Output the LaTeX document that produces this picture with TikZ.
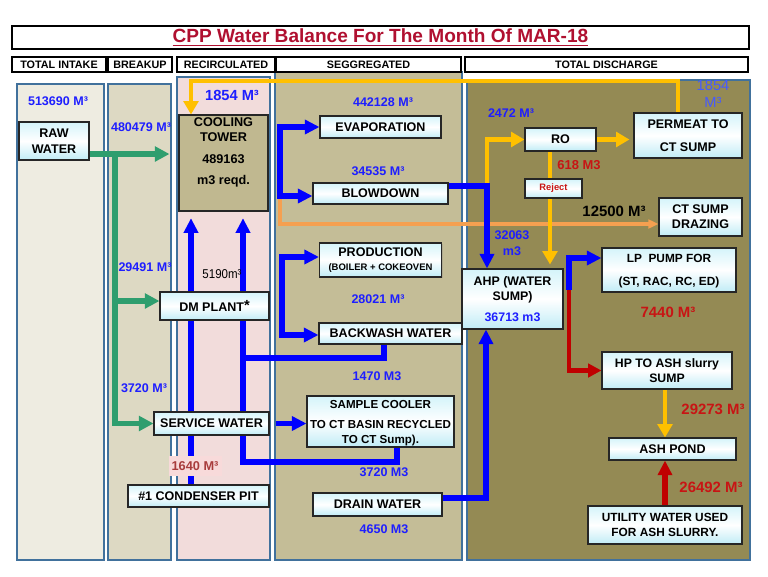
\documentclass[tikz,border=0pt]{standalone}
\usepackage{fontspec}
\setmainfont{Liberation Sans}
\usetikzlibrary{arrows.meta,shadows}
\definecolor{colA}{HTML}{EEECE1}
\definecolor{colB}{HTML}{DDD9C3}
\definecolor{colC}{HTML}{F2DCDB}
\definecolor{colD}{HTML}{C4BD97}
\definecolor{colE}{HTML}{948A54}
\definecolor{colEdge}{HTML}{41719C}
\definecolor{ctfill}{HTML}{C0B890}
\definecolor{vblue}{RGB}{30,30,255}
\definecolor{lblue}{RGB}{70,90,255}
\definecolor{fblue}{RGB}{0,0,255}
\definecolor{fgreen}{RGB}{46,158,110}
\definecolor{fyellow}{RGB}{255,192,0}
\definecolor{forange}{RGB}{245,160,80}
\definecolor{fred}{RGB}{192,0,0}
\definecolor{tred}{RGB}{200,20,20}
\definecolor{titlered}{RGB}{176,16,48}
\definecolor{brownred}{RGB}{168,60,60}
\definecolor{lblbg}{RGB}{248,218,218}
\definecolor{boxtop}{RGB}{212,244,250}
\definecolor{boxbot}{RGB}{192,236,246}
\pgfdeclarelayer{cols}
\pgfdeclarelayer{lines}
\pgfsetlayers{cols,lines,main}
\tikzset{
  sz/.style 2 args={minimum width=#1*0.75pt, minimum height=#2*0.75pt},
  box/.style={draw=black!85, line width=0.8pt, top color=boxtop, bottom color=boxbot, middle color=white,
    drop shadow={shadow xshift=1pt, shadow yshift=-1pt, opacity=0.3},
    inner sep=0pt, align=center, font=\bfseries\fontsize{9.4}{11.3}\selectfont},
  hdr/.style={draw=black, line width=0.9pt, fill=white, inner sep=0pt, font=\bfseries\fontsize{8.1}{10}\selectfont},
  colpanel/.style={draw=colEdge, line width=1.3pt},
  val/.style={font=\bfseries\fontsize{9.4}{12}\selectfont, text=vblue, inner sep=0pt, align=center},
  bigval/.style={font=\bfseries\fontsize{11.2}{13}\selectfont, inner sep=0pt, align=center},
  bline/.style={draw=fblue, line width=4pt},
  barrow/.style={bline, -{Triangle[length=11pt,width=10.5pt]}},
  bboth/.style={bline, {Triangle[length=11pt,width=10.5pt]}-{Triangle[length=11pt,width=10.5pt]}},
  gline/.style={draw=fgreen, line width=4pt},
  garrow/.style={gline, -{Triangle[length=11pt,width=11pt]}},
  yarrow/.style={draw=fyellow, line width=3.2pt, -{Triangle[length=10pt,width=11pt]}},
  oarrow/.style={draw=forange, line width=2.3pt, -{Triangle[length=7.5pt,width=6.5pt]}},
  rarrow/.style={draw=fred, line width=3.6pt, -{Triangle[length=10pt,width=10pt]}},
}
\begin{document}
\begin{tikzpicture}[x=0.75pt,y=-0.75pt]
\useasboundingbox (0,0) rectangle (768,576);
\begin{pgfonlayer}{cols}
\fill[white] (0,0) rectangle (768,576);
\draw[colpanel, fill=colA] (17,84) rectangle (104,560);
\draw[colpanel, fill=colB] (108,84) rectangle (171,560);
\draw[colpanel, fill=colC] (177,77) rectangle (270,560);
\draw[colpanel, fill=colD] (275,72) rectangle (462,560);
\draw[colpanel, fill=colE] (467,80) rectangle (750,560);
\end{pgfonlayer}

% title and headers
\node[hdr, sz={737}{23}, font=\bfseries\fontsize{14.3}{16}\selectfont, text=titlered] (title) at (380.5,37.5) {\underline{CPP Water Balance For The Month Of MAR-18}};
\node[hdr, sz={94}{15}] (h1) at (59,64.5) {TOTAL INTAKE};
\node[hdr, sz={64}{15}] (h2) at (140,64.5) {BREAKUP};
\node[hdr, sz={98}{15}] (h3) at (226,64.5) {RECIRCULATED};
\node[hdr, sz={185}{15}] (h4) at (368.5,64.5) {SEGGREGATED};
\node[hdr, sz={283}{15}] (h5) at (606.5,64.5) {TOTAL DISCHARGE};

% boxes
\node[box, sz={70}{38}, font=\bfseries\fontsize{9.4}{12}\selectfont] (raw) at (54,141) {RAW\\WATER};
\node[draw=black!85, line width=0.8pt, fill=ctfill, sz={89}{96}] (ct) at (223.5,163) {};
\node[anchor=north, inner sep=0pt, align=center, font=\bfseries\fontsize{9.5}{11.25}\selectfont] (ctlbl) at (223.5,117) {COOLING\\TOWER\\[5.2pt]489163\\[5.2pt]m3 reqd.};
\node[box, sz={109}{28}] (dm) at (214.5,306) {DM PLANT\raisebox{1pt}{\fontsize{11}{11}\selectfont*}};
\node[box, sz={115}{23}] (svc) at (211.5,423.5) {SERVICE WATER};
\node[box, sz={141}{22}] (cond) at (198.5,496) {\#1 CONDENSER PIT};
\node[box, sz={121}{22}] (evap) at (380.5,127) {EVAPORATION};
\node[box, sz={135}{21}] (bd) at (380.5,193.5) {BLOWDOWN};
\node[box, sz={122}{34}, font=\bfseries\fontsize{9.4}{10.5}\selectfont] (prod) at (380.5,260) {PRODUCTION\\{\fontsize{7.1}{8}\selectfont (BOILER + COKEOVEN}};
\node[box, sz={143}{21}] (bw) at (390.5,333.5) {BACKWASH WATER};
\node[box, sz={147}{51}, font=\bfseries\fontsize{8.7}{11.25}\selectfont] (sc) at (380.5,421.5) {\rule{0pt}{9pt}SAMPLE COOLER\\[3.75pt]TO CT BASIN RECYCLED\\TO CT Sump).};
\node[box, sz={129}{23}] (dr) at (377.5,504.5) {DRAIN WATER};
\node[box, sz={71}{23}] (ro) at (560.5,139.5) {RO};
\node[box, sz={108}{45}] (perm) at (688,135.5) {PERMEAT TO\\[6pt]CT SUMP};
\node[box, sz={57}{19}, font=\bfseries\fontsize{7}{8}\selectfont, text=tred] (rej) at (553.5,188.5) {Reject};
\node[box, sz={83}{38}] (ctsd) at (700.5,217) {CT SUMP\\DRAZING};
\node[box, sz={101}{60}, font=\bfseries\fontsize{9.3}{11.25}\selectfont] (ahp) at (512.5,299) {AHP (WATER\\SUMP)\\[4.5pt]\textcolor{vblue}{36713 m3}};
\node[box, sz={134}{44}, font=\bfseries\fontsize{8.9}{11.25}\selectfont] (lp) at (669,270) {\rule{0pt}{8pt}LP\ \ PUMP FOR\\[6pt](ST, RAC, RC, ED)};
\node[box, sz={130}{37}, font=\bfseries\fontsize{9.2}{11.25}\selectfont] (hp) at (667,370.5) {HP TO ASH slurry\\SUMP};
\node[box, sz={127}{22}] (ash) at (672.5,449) {ASH POND};
\node[box, sz={154}{38}, font=\bfseries\fontsize{8.9}{11.25}\selectfont] (util) at (665,525) {UTILITY WATER USED\\FOR ASH SLURRY.};

% value labels
\node[val] (v1) at (58,101) {513690 M³};
\node[val] (v2) at (141,127) {480479 M³};
\node[bigval, text=vblue, font=\bfseries\fontsize{11}{13}\selectfont] (v3) at (232,95) {1854 M³};
\node[val] (v4) at (145,267) {29491 M³};
\node[inner sep=0pt, font=\fontsize{9.6}{10}\selectfont] (v5) at (222,274) {\scalebox{0.9}[1]{5190m³}};
\node[val] (v6) at (144,388) {3720 M³};
\node[val, fill=lblbg, text=brownred, sz={53}{20}, font=\bfseries\fontsize{9.6}{11}\selectfont] (v7) at (195,466) {1640 M³};
\node[val] (v8) at (383,102) {442128 M³};
\node[val] (v9) at (378,171) {34535 M³};
\node[val] (v10) at (378,299) {28021 M³};
\node[val] (v11) at (377,376) {1470 M3};
\node[val] (v12) at (384,472) {3720 M3};
\node[val] (v13) at (384,529) {4650 M3};
\node[val] (v14) at (511,113) {2472 M³};
\node[inner sep=0pt, align=center, text=lblue, font=\fontsize{11}{12.75}\selectfont] (v15) at (713,94) {1854\\M³};
\node[val, text=tred, font=\bfseries\fontsize{9.7}{11}\selectfont] (v16) at (579,165) {618 M3};
\node[bigval] (v17) at (614,211) {12500 M³};
\node[val] (v18) at (512,243) {32063\\m3};
\node[bigval, text=tred] (v19) at (668,312) {7440 M³};
\node[bigval, text=tred] (v20) at (713,409) {29273 M³};
\node[bigval, text=tred] (v21) at (711,487) {26492 M³};

% connectors
\begin{pgfonlayer}{lines}
% green intake
\coordinate (gs) at (115,154);
\draw[garrow, shorten >=6.75pt] (raw.east |- gs) -- (ct.west |- gs);
\draw[garrow] (gs) |- (svc.west);
\draw[garrow] ([yshift=3.75pt]dm.west -| gs) -- ([yshift=3.75pt]dm.west);
% recirculation to cooling tower
\coordinate (bxL) at (191,0);
\coordinate (bxR) at (243,0);
\coordinate (bwx) at (384,358);
\coordinate (scx) at (397,462);
\draw[barrow, shorten >=5pt] (cond.north -| bxL) -- (ct.south -| bxL);
\draw[bline] (bw.south -| bwx) |- (bxR |- bwx);
\draw[barrow, shorten >=5pt] (sc.south -| scx) |- (bxR |- scx) -- (ct.south -| bxR);
\draw[barrow] ([xshift=4.5pt]svc.east) -- (sc.west |- svc.east);
% orange to CT sump drazing
\coordinate (eb) at (280,196);
\draw[oarrow] (eb) |- ([yshift=-5.25pt]ctsd.west);
% evaporation / blowdown
\draw[bboth] (evap.west) -| (eb) -- (bd.west |- eb);
% production / backwash
\coordinate (pb) at (282,335);
\draw[bboth] ([yshift=2.25pt]prod.west) -| (pb) -- (bw.west |- pb);
% blowdown to AHP and RO
\coordinate (ax) at (487,186);
\draw[yarrow] (ax) |- (ro.west);
\draw[barrow] (bd.east |- ax) -- (ax) -- (ax |- ahp.north);
% drain to AHP
\coordinate (dx) at (486,498);
\draw[barrow] (dr.east |- dx) -| (ahp.south -| dx);
% AHP to LP / HP
\coordinate (lj) at (569,290);
\draw[barrow] (lj) |- ([yshift=9pt]lp.west);
\draw[rarrow] (lj) |- (hp.west);
% permeate back to cooling tower
\coordinate (ytop) at (678,81);
\coordinate (ytl) at (191,81);
\draw[yarrow, line width=3.5pt] (perm.north -| ytop) -- (ytop) -- (ytl) -- (ct.north -| ytl);
% RO outputs
\coordinate (rx) at (550,0);
\draw[yarrow, shorten >=3pt] (ro.east) -- (perm.west |- ro.east);
\draw[yarrow, shorten >=3pt] (ro.south -| rx) -- (ahp.north -| rx);
% ash pond
\coordinate (hx) at (665,0);
\draw[yarrow] (hp.south -| hx) -- (ash.north -| hx);
\draw[rarrow, line width=4.2pt, -{Triangle[length=11pt,width=10.5pt]}] (util.north) -- (util.north |- ash.south);
\end{pgfonlayer}
\end{tikzpicture}
\end{document}
